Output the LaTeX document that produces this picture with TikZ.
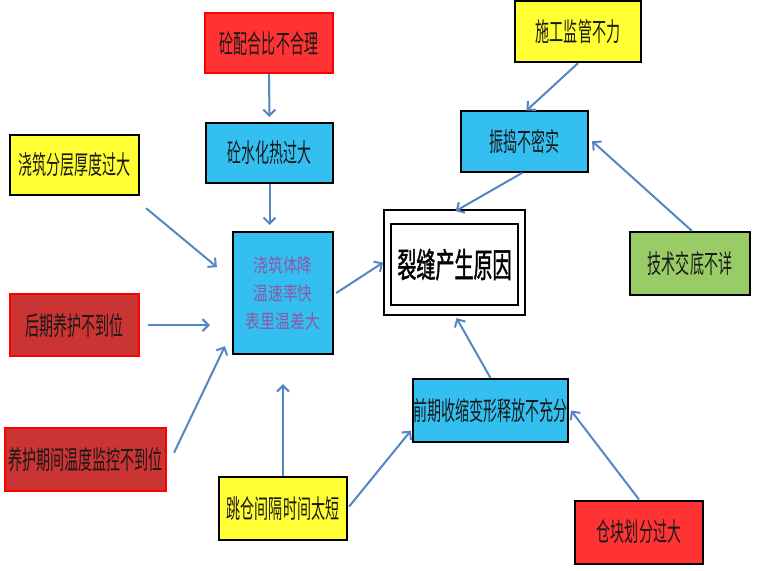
\documentclass[tikz,border=0pt]{standalone}
\usepackage{fontspec}
\usepackage{xcolor}
\usepackage{tikz}
\usetikzlibrary{arrows.meta}
\newfontfamily\cjk[FakeStretch=0.54]{Noto Sans CJK SC}
\newfontfamily\cjkcore[FakeStretch=0.78]{Noto Sans CJK SC}
\newfontfamily\cjkroot[FakeStretch=0.56,FakeBold=1.2]{Noto Sans CJK SC}
\definecolor{redfill}{HTML}{FF3333}
\definecolor{dredfill}{HTML}{CC3333}
\definecolor{reddraw}{HTML}{FF0000}
\definecolor{yelfill}{HTML}{FFFF33}
\definecolor{blufill}{HTML}{33BFF0}
\definecolor{grnfill}{HTML}{99CC66}
\definecolor{arrblue}{HTML}{5585C5}
\definecolor{coretext}{HTML}{8E58A6}
\tikzset{
  blk/.style={rectangle, line width=2.2pt, align=center, inner sep=0pt, font=\cjk\fontsize{26}{30}\selectfont, text=black!90},
  redbx/.style={blk, draw=reddraw, fill=redfill},
  dredbx/.style={blk, draw=reddraw, fill=dredfill},
  blkredbx/.style={blk, draw=black, fill=redfill},
  yelbx/.style={blk, draw=black, fill=yelfill},
  blubx/.style={blk, draw=black, fill=blufill},
  grnbx/.style={blk, draw=black, fill=grnfill},
  root/.style={rectangle, draw=black, line width=2.2pt, fill=white, inner sep=0pt, font=\cjkroot\fontsize{34}{38}\selectfont},
  arr/.style={-{Straight Barb[length=6pt,width=12pt]}, line width=2pt, draw=arrblue},
}
\begin{document}
\begin{tikzpicture}[x=1pt, y=-1pt]
  \fill[white] (0,0) rectangle (760,570);
  \node[redbx, minimum width=128pt, minimum height=60pt] (mix) at (269,43) {砼配合比不合理};
  \node[blubx, minimum width=127pt, minimum height=60pt] (heat) at (269.5,153) {砼水化热过大};
  \node[yelbx, minimum width=129pt, minimum height=60pt] (layer) at (74.5,165) {浇筑分层厚度过大};
  \node[blubx, minimum width=100pt, minimum height=122pt, text=coretext, font=\cjkcore\fontsize{19}{28}\selectfont] (core) at (283,293) {浇筑体降\\温速率快\\表里温差大};
  \node[dredbx, minimum width=129pt, minimum height=62pt] (late) at (74.5,325) {后期养护不到位};
  \node[dredbx, minimum width=161pt, minimum height=63pt] (monitor) at (85.5,459.5) {养护期间温度监控不到位};
  \node[yelbx, minimum width=128pt, minimum height=63pt] (gap) at (283,508.5) {跳仓间隔时间太短};
  \node[draw=black, line width=2pt, minimum width=141pt, minimum height=105pt] (causeout) at (454.5,262.5) {};
  \node[root, minimum width=127pt, minimum height=81pt] (cause) at (454.5,264.5) {裂缝产生原因};
  \node[yelbx, minimum width=126pt, minimum height=61pt] (super) at (578,31.5) {施工监管不力};
  \node[blubx, minimum width=127pt, minimum height=61pt] (vib) at (524.5,141) {振捣不密实};
  \node[grnbx, minimum width=120pt, minimum height=63pt] (brief) at (690,263.5) {技术交底不详};
  \node[blubx, minimum width=155pt, minimum height=63pt] (shrink) at (490.5,410.5) {前期收缩变形释放不充分};
  \node[blkredbx, minimum width=128pt, minimum height=63pt] (block) at (639,532) {仓块划分过大};
  % left side
  \draw[arr, shorten >=5pt] (mix) -- (heat);
  \draw[arr, shorten >=6pt] (heat.south) -- (heat.south |- core.north);
  \draw[arr] ([shift={(6pt,-12pt)}]layer.south east) -- ([shift={(-15pt,-36pt)}]core.north west);
  \draw[arr] ([xshift=8pt]late.east) -- ([shift={(-22pt,-32pt)}]core.west);
  \draw[arr] ([shift={(7pt,7pt)}]monitor.east) -- ([shift={(-7pt,9pt)}]core.south west);
  \draw[arr, shorten >=29pt] (gap.north) -- (gap.north |- core.south);
  \draw[arr] ([shift={(1pt,2pt)}]gap.east) -- ([shift={(-1pt,-20pt)}]shrink.west);
  \draw[arr] ([xshift=2pt]core.east) -- (causeout.west);
  % right side
  \draw[arr] (shrink.north) -- ([shift={(2pt,-2pt)}]causeout.south);
  \draw[arr] (block.north) -- ([xshift=2pt]shrink.east);
  \draw[arr] ([xshift=-2pt]vib.south) -- ([shift={(1pt,-2pt)}]causeout.north);
  \draw[arr] (super.south) -- ([shift={(2pt,-1pt)}]vib.north);
  \draw[arr] ([xshift=2pt]brief.north) -- ([xshift=3pt]vib.east);
\end{tikzpicture}
\end{document}
